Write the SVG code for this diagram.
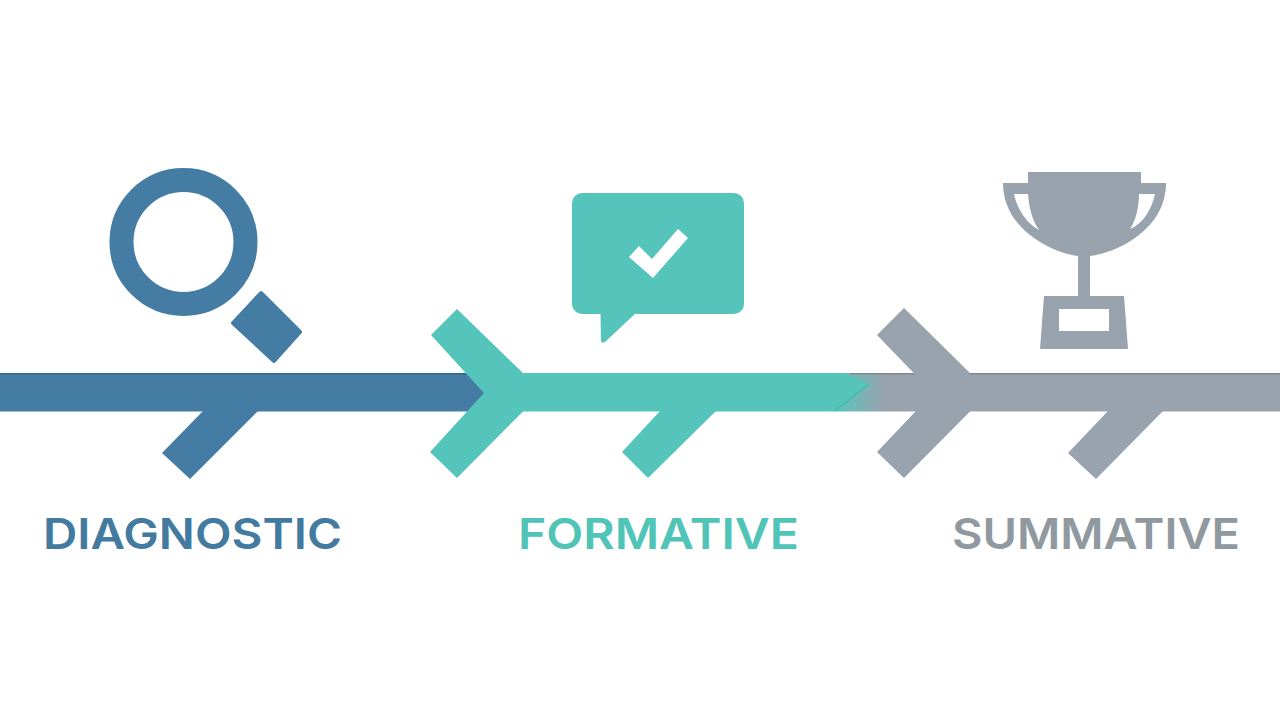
<svg xmlns="http://www.w3.org/2000/svg" width="1280" height="720" viewBox="0 0 1280 720">
<style>
.blue{fill:#457ca4}.teal{fill:#55c5bb}.grey{fill:#98a3ad}
.edge{fill:none;stroke-width:1.5}
text{font-family:"Inter","Liberation Sans",sans-serif;font-weight:600;font-size:43px}
</style>
<defs>
<linearGradient id="fade" gradientUnits="userSpaceOnUse" x1="835" y1="0" x2="885" y2="0">
<stop offset="0" stop-color="#55c5bb"/><stop offset="0.35" stop-color="#6fb9b8"/><stop offset="1" stop-color="#98a3ad"/>
</linearGradient>
</defs>
<rect width="1280" height="720" fill="#ffffff"/>
<g id="connectors">
<rect class="grey" x="960" y="373" width="320" height="38.500"/>
<rect x="835" y="373" width="100" height="38.500" fill="url(#fade)"/>
<path class="edge" stroke="#7f8a92" d="M850 373.700H918M970 373.700H1280"/>
<rect class="blue" x="0" y="373" width="480" height="38.500"/>
<path class="blue" d="M470 373H477L486 393L472 411.500H470Z"/>
<path class="edge" stroke="#2f6a92" d="M0 373.700H466"/>
<path class="teal" d="M515 373H843L869 384L835 411.500H515Z"/>
<path fill="none" stroke="#3fbcae" stroke-width="1.500" d="M869 384L835 411"/>
</g>
<g id="diagnostic">
<circle cx="183.500" cy="242" r="62" fill="none" stroke="#457ca4" stroke-width="24"/>
<path class="blue" stroke="#457ca4" stroke-width="4" stroke-linejoin="round" d="M261 293L300 332L274 361L233 323Z"/>
<path class="blue" d="M203 411L162 453L190 479L258 411Z"/>
<text x="43" y="549" fill="#437ba0" textLength="299" lengthAdjust="spacingAndGlyphs">DIAGNOSTIC</text>
</g>
<g id="formative">
<rect class="teal" x="572" y="193" width="172" height="121" rx="10"/>
<path class="teal" d="M600.500 312L601 341Q602 344 605 342L637 312Z"/>
<path fill="#ffffff" d="M629 257L639 246L652 259L678 229L688 238L653 278Z"/>
<path class="teal" d="M457 309L431 335L484 393L430 452L457 478L523 411.500V373Z"/>
<path class="teal" d="M660 411L622 452L648 478L716 411Z"/>
<text x="518" y="549" fill="#50c4b7" textLength="281" lengthAdjust="spacingAndGlyphs">FORMATIVE</text>
</g>
<g id="summative">
<path class="grey" fill-rule="evenodd" d="M1028 172H1141V183H1166C1166 205 1155 224 1135 238C1121 248 1105 254 1090 256V296H1124L1128 349H1040L1044 296H1078V256C1063 254 1048 248 1034 238C1014 224 1003 205 1003 183H1028ZM1014 194C1017 209 1027 224 1039 230C1032 220 1029 207 1028 194ZM1155 194H1139C1139 207 1136 220 1130 229C1143 224 1152 209 1155 194ZM1059 309V331H1109V309Z"/>
<path class="grey" d="M904 308L877 335L933 393L877 452L904 478L970 411.500V373Z"/>
<path class="grey" d="M1108 411L1068 453L1096 479L1163 411Z"/>
<text x="952" y="549" fill="#8f999f" textLength="288" lengthAdjust="spacingAndGlyphs">SUMMATIVE</text>
</g>
</svg>
